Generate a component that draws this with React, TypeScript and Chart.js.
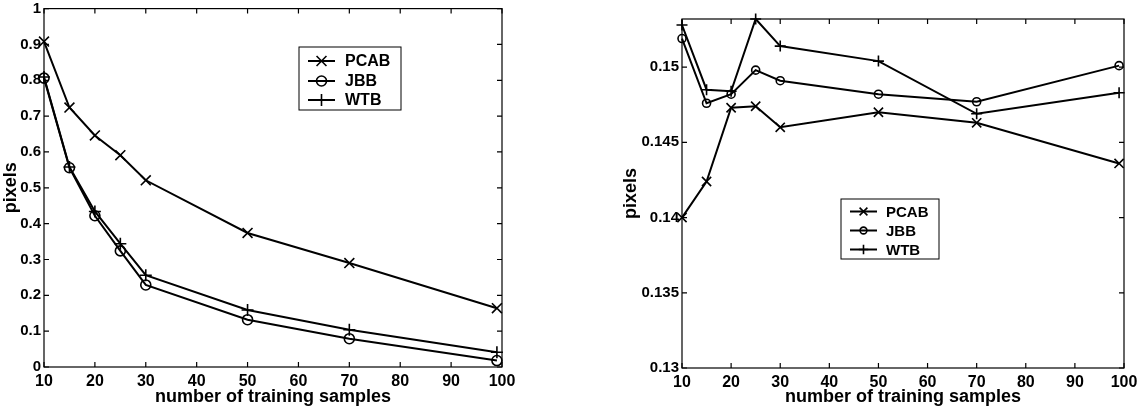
import React, { useEffect, useRef } from "react";
import { Chart, registerables } from "chart.js";

Chart.register(...registerables);

// ---------- data ----------
const xSamples = [10, 15, 20, 25, 30, 50, 70, 99];
const xTicks = [10, 20, 30, 40, 50, 60, 70, 80, 90, 100];
const leftYTicks = [0, 0.1, 0.2, 0.3, 0.4, 0.5, 0.6, 0.7, 0.8, 0.9, 1];
const rightYTicks = [0.13, 0.135, 0.14, 0.145, 0.15];
const seriesLabels = ["PCAB", "JBB", "WTB"];
const markerStyles = ["crossRot", "circle", "cross"];

const leftPCAB = [0.908, 0.724, 0.646, 0.591, 0.521, 0.374, 0.29, 0.164];
const leftJBB = [0.806, 0.556, 0.422, 0.324, 0.229, 0.132, 0.079, 0.018];
const leftWTB = [0.809, 0.558, 0.434, 0.344, 0.256, 0.159, 0.104, 0.041];

const rightPCAB = [0.14, 0.1424, 0.1473, 0.1474, 0.146, 0.147, 0.1463, 0.1436];
const rightJBB = [0.1519, 0.1476, 0.1482, 0.1498, 0.1491, 0.1482, 0.1477, 0.1501];
const rightWTB = [0.1528, 0.1485, 0.1484, 0.1532, 0.1514, 0.1504, 0.1469, 0.1483];

const leftYRange = [0, 1];
const rightYRange = [0.13, 0.1532];
const xRange = [10, 100];

const xTitle = "number of training samples";
const yTitle = "pixels";

const FONT = "'Liberation Sans', Arial, Helvetica, sans-serif";

// ---------- plugins ----------
function drawMarker(ctx: CanvasRenderingContext2D, style: string, x: number, y: number, r: number) {
  ctx.beginPath();
  if (style === "circle") {
    ctx.arc(x, y, r, 0, Math.PI * 2);
  } else if (style === "cross") {
    ctx.moveTo(x - r, y);
    ctx.lineTo(x + r, y);
    ctx.moveTo(x, y - r);
    ctx.lineTo(x, y + r);
  } else {
    const d = r * Math.SQRT1_2;
    ctx.moveTo(x - d, y - d);
    ctx.lineTo(x + d, y + d);
    ctx.moveTo(x - d, y + d);
    ctx.lineTo(x + d, y - d);
  }
  ctx.stroke();
}

const frameTicksPlugin = {
  id: "frameTicks",
  afterDatasetsDraw(chart: any, _args: any, opts: any) {
    const { ctx, chartArea } = chart;
    const { left, right, top, bottom } = chartArea;
    const xs = chart.scales.x;
    const ys = chart.scales.y;
    const len = opts.tickLength ?? 5;
    ctx.save();
    ctx.strokeStyle = "#000";
    ctx.lineWidth = 1.2;
    ctx.strokeRect(left, top, right - left, bottom - top);
    ctx.beginPath();
    xs.ticks.forEach((t: any) => {
      const px = xs.getPixelForValue(t.value);
      ctx.moveTo(px, bottom);
      ctx.lineTo(px, bottom - len);
      ctx.moveTo(px, top);
      ctx.lineTo(px, top + len);
    });
    ys.ticks.forEach((t: any) => {
      const py = ys.getPixelForValue(t.value);
      ctx.moveTo(left, py);
      ctx.lineTo(left + len, py);
      ctx.moveTo(right, py);
      ctx.lineTo(right - len, py);
    });
    ctx.stroke();
    ctx.restore();
  },
};

const boxLegendPlugin = {
  id: "boxLegend",
  afterDraw(chart: any, _args: any, opts: any) {
    const { ctx } = chart;
    const { x, y, w, h, rows, line0, line1, textX, fontSize, markerScale } = opts;
    ctx.save();
    ctx.fillStyle = "#fff";
    ctx.fillRect(x, y, w, h);
    ctx.strokeStyle = "#000";
    ctx.lineWidth = 1;
    ctx.strokeRect(x, y, w, h);
    chart.data.datasets.forEach((ds: any, i: number) => {
      const ry = rows[i];
      ctx.strokeStyle = "#000";
      ctx.lineWidth = 2;
      ctx.beginPath();
      ctx.moveTo(line0, ry);
      ctx.lineTo(line1, ry);
      ctx.stroke();
      ctx.lineWidth = 1.6;
      drawMarker(ctx, ds.pointStyle, (line0 + line1) / 2, ry, ds.pointRadius * markerScale);
      ctx.fillStyle = "#000";
      ctx.font = `bold ${fontSize}px ${FONT}`;
      ctx.textBaseline = "middle";
      ctx.textAlign = "left";
      ctx.fillText(ds.label, textX, ry + 1);
    });
    ctx.restore();
  },
};

// ---------- chart config ----------
type Geo = {
  yAxisWidth: number;
  xAxisHeight: number;
  padTop: number;
  padRight: number;
  yTitlePad: number;
  radii: number[];
  legend: any;
};

function fmt(v: number) {
  return String(Number(Number(v).toFixed(4)));
}

function makeConfig(series: number[][], yRange: number[], yTicks: number[], geo: Geo): any {
  const datasets = series.map((vals, i) => ({
    label: seriesLabels[i],
    data: vals.map((v, j) => ({ x: xSamples[j], y: v })),
    borderColor: "#000",
    borderWidth: 2,
    pointStyle: markerStyles[i],
    pointRadius: geo.radii[i],
    pointBorderWidth: 1.6,
    pointBorderColor: "#000",
    pointBackgroundColor: "rgba(0,0,0,0)",
    fill: false,
    tension: 0,
    clip: false,
  }));
  return {
    type: "line",
    data: { datasets },
    options: {
      animation: false,
      responsive: false,
      maintainAspectRatio: false,
      events: [],
      layout: { padding: { left: 0, top: geo.padTop, right: geo.padRight, bottom: 0 } },
      plugins: {
        legend: { display: false },
        tooltip: { enabled: false },
        frameTicks: { tickLength: 5 },
        boxLegend: geo.legend,
      },
      scales: {
        x: {
          type: "linear",
          min: xRange[0],
          max: xRange[1],
          grid: { display: false, drawTicks: false },
          border: { display: false },
          afterBuildTicks: (s: any) => {
            s.ticks = xTicks.map((v) => ({ value: v }));
          },
          afterFit: (s: any) => {
            s.height = geo.xAxisHeight;
            s.paddingLeft = 0;
            s.paddingRight = 0;
          },
          ticks: {
            autoSkip: false,
            maxRotation: 0,
            minRotation: 0,
            padding: 5,
            color: "#000",
            font: { family: FONT, size: 16, weight: "bold" },
            callback: (v: any) => fmt(v),
          },
          title: {
            display: true,
            text: xTitle,
            color: "#000",
            font: { family: FONT, size: 18, weight: "bold", lineHeight: 1.2 },
            padding: { top: 0, bottom: 1 },
          },
        },
        y: {
          type: "linear",
          min: yRange[0],
          max: yRange[1],
          grid: { display: false, drawTicks: false },
          border: { display: false },
          afterBuildTicks: (s: any) => {
            s.ticks = yTicks.map((v) => ({ value: v }));
          },
          afterFit: (s: any) => {
            s.width = geo.yAxisWidth;
            s.paddingTop = 0;
            s.paddingBottom = 0;
          },
          ticks: {
            autoSkip: false,
            padding: 3,
            color: "#000",
            font: { family: FONT, size: 15, weight: "bold" },
            callback: (v: any) => fmt(v),
          },
          title: {
            display: true,
            text: yTitle,
            color: "#000",
            font: { family: FONT, size: 18, weight: "bold", lineHeight: 1.2 },
            padding: { top: geo.yTitlePad, bottom: 0 },
          },
        },
      },
    },
    plugins: [frameTicksPlugin, boxLegendPlugin],
  };
}

function ChartCanvas({ config, left, width, height }: { config: any; left: number; width: number; height: number }) {
  const ref = useRef<HTMLCanvasElement | null>(null);
  useEffect(() => {
    if (!ref.current) return;
    const chart = new Chart(ref.current, config);
    return () => chart.destroy();
  }, [config]);
  return (
    <canvas
      ref={ref}
      width={width}
      height={height}
      style={{ position: "absolute", left, top: 0, width, height }}
    />
  );
}

const leftGeo: Geo = {
  yAxisWidth: 44,
  xAxisHeight: 42,
  padTop: 5,
  padRight: 58,
  yTitlePad: 0,
  radii: [7, 5, 6],
  legend: {
    x: 299,
    y: 47,
    w: 102,
    h: 63,
    rows: [61, 81, 100],
    line0: 308,
    line1: 335,
    textX: 345,
    fontSize: 16,
    markerScale: 1,
  },
};

const rightGeo: Geo = {
  yAxisWidth: 112,
  xAxisHeight: 41,
  padTop: 19,
  padRight: 15,
  yTitlePad: 50,
  radii: [6.5, 4, 5.5],
  legend: {
    x: 271,
    y: 199,
    w: 98,
    h: 60,
    rows: [211.5, 230.5, 249.5],
    line0: 280,
    line1: 307,
    textX: 316,
    fontSize: 15,
    markerScale: 0.85,
  },
};

const leftConfig = makeConfig([leftPCAB, leftJBB, leftWTB], leftYRange, leftYTicks, leftGeo);
const rightConfig = makeConfig([rightPCAB, rightJBB, rightWTB], rightYRange, rightYTicks, rightGeo);

export default function App() {
  return (
    <div
      style={{
        position: "absolute",
        left: 0,
        top: 0,
        width: 1139,
        height: 409,
        background: "#fff",
        overflow: "hidden",
      }}
    >
      <ChartCanvas config={leftConfig} left={0} width={560} height={409} />
      <ChartCanvas config={rightConfig} left={570} width={569} height={409} />
    </div>
  );
}
